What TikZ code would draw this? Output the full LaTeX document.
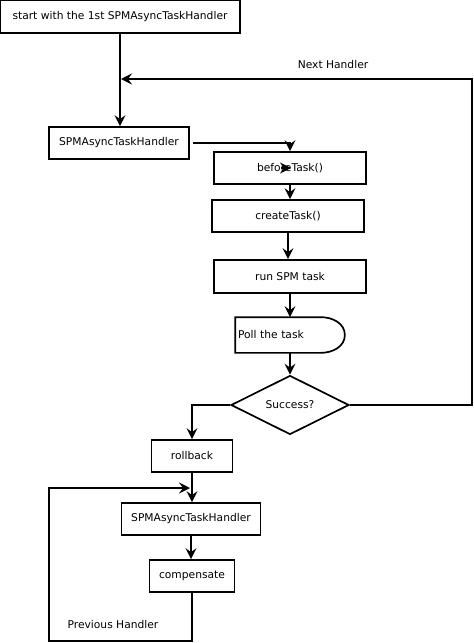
\documentclass[tikz,border=0pt]{standalone}
\usepackage{fontspec}
\setmainfont{DejaVu Sans}
\usetikzlibrary{shapes.geometric,arrows.meta}

\begin{document}
\begin{tikzpicture}[x=1pt, y=-1pt, line width=1.7pt,
  box/.style={draw, rectangle, minimum height=32, inner sep=0pt, font=\fontsize{10.7}{12}\selectfont},
  lbl/.style={font=\fontsize{10.7}{12}\selectfont},
  arr/.style={-{Stealth[length=11pt, width=11pt, inset=4pt]}}]
% Fix the page size
\useasboundingbox (0, 0) rectangle (474, 643);

% Draw the boxes
\node[box, minimum width=240, minimum height=33] (start) at (120, 16.5) {start with the 1st SPMAsyncTaskHandler};
\node[box, minimum width=140] (handler) at (119, 143) {SPMAsyncTaskHandler};
\node[box, minimum width=152] (before) at (290, 168) {beforeTask()};
\node[box, minimum width=152] (create) at (288, 216) {createTask()};
\node[box, minimum width=152, minimum height=33] (run) at (290, 276.5) {run SPM task};
\node[lbl, minimum width=108, minimum height=34, inner sep=2pt, text width=104, align=left] (poll) at (290, 335) {Poll the task};
\node[lbl, draw, diamond, minimum width=118, minimum height=59, inner sep=0pt] (succ) at (290, 405) {Success?};
\node[box, minimum width=81] (rollback) at (192, 456) {rollback};
\node[box, minimum width=139] (handler2) at (191, 519) {SPMAsyncTaskHandler};
\node[box, minimum width=85] (comp) at (192, 576) {compensate};

% Draw the poll shape
\draw (poll.north west) -- ([xshift=-24]poll.north east) to[out=0, in=90] (poll.east) to[out=-90, in=0] ([xshift=-24]poll.south east) -- (poll.south west) -- cycle;

% Draw the labels
\node[lbl] (next) at (333, 65) {Next Handler};
\node[lbl] (prev) at (113, 625) {Previous Handler};

% Helper points for the loops
\coordinate (nexttip) at (121, 79);
\coordinate (nextcorner) at (472, 79);
\coordinate (prevbottom) at (192, 641);
\coordinate (prevleft) at (49, 641);
\coordinate (prevtop) at (49, 488);
\coordinate (prevtip) at (190, 488);

% Draw the arrows
\draw[arr] (start.south) -- (start.south |- handler.north);
\draw[arr] ([xshift=3]handler.east) -| (before.north);
\draw[arr] ([xshift=-9]before.center) -- ([xshift=1]before.center);
\draw[arr] (before.south) -- (before.south |- create.north);
\draw[arr] (create.south) -- (create.south |- run.north);
\draw[arr] (run.south) -- (poll.north);
\draw[arr] (poll.south) -- (succ.north);
\draw[arr] (succ.east) -| (nextcorner) -- (nexttip);
\draw[arr] (succ.west) -| (rollback.north);
\draw[arr] (rollback.south) -- (rollback.south |- handler2.north);
\draw[arr] (handler2.south) -- (handler2.south |- comp.north);
\draw[arr] (comp.south) -- (prevbottom) -- (prevleft) -- (prevtop) -- (prevtip);
\end{tikzpicture}
\end{document}
